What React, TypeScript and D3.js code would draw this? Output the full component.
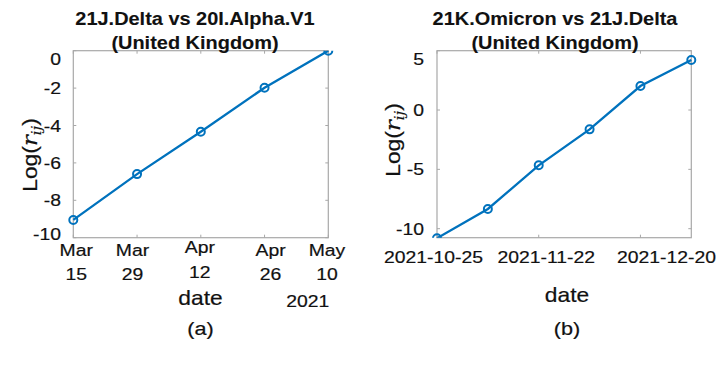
import React from "react";
import * as d3 from "d3";

const leftDates = ["2021-03-15", "2021-03-29", "2021-04-12", "2021-04-26", "2021-05-10"];
const leftValues = [-9.05, -6.6, -4.33, -1.98, 0];
const leftTickDates = ["2021-03-15", "2021-03-29", "2021-04-12", "2021-04-26", "2021-05-10"];
const leftTickLabels = [["Mar", "15"], ["Mar", "29"], ["Apr", "12"], ["Apr", "26"], ["May", "10"]];
const leftYTicks = [0, -2, -4, -6, -8, -10];

const rightDates = ["2021-10-25", "2021-11-08", "2021-11-22", "2021-12-06", "2021-12-20", "2022-01-03"];
const rightValues = [-10.8, -8.34, -4.66, -1.63, 2.02, 4.21];
const rightTickDates = ["2021-10-25", "2021-11-22", "2021-12-20"];
const rightTickLabels = [["2021-10-25"], ["2021-11-22"], ["2021-12-20"]];
const rightYTicks = [5, 0, -5, -10];

// layout nudges of the tick labels (as in the reference image)
const leftLabelDx = [3, -4.5, -1, 6, -1.3];
const leftLabelDy = [0, 0, -2.5, 0, 0];
const rightLabelDx = [-3.5, 7.5, 26];
const rightLabelDy = [0, 0, 0];

const BLUE = "#0072BD";
const AXIS = "#a8a8a8";
const FONT = "'Liberation Sans', Arial, sans-serif";
const SX = 1.14;

function T({ x, y, size, anchor = "middle", bold = false, children, rotate = 0 }: any) {
  return (
    <text
      transform={`translate(${x},${y}) rotate(${rotate}) scale(${SX},1)`}
      fontSize={size}
      fontFamily={FONT}
      fontWeight={bold ? "bold" : "normal"}
      textAnchor={anchor}
      fill="#111"
      stroke="#111"
      strokeWidth={bold ? 0.1 : 0.2}
    >
      {children}
    </text>
  );
}

function Panel(props: any) {
  const {
    id, left, right, top, bottom, dates, values, xDomain, yDomain, tickDates, tickLabels, yTicks,
    title, tickBaseline, dateBaseline, subLabel, subBaseline, yLabelX, yLabelY, yearLabel, yLabelRight,
    labelDx, labelDy, textCx, titleCx,
  } = props;
  const parse = d3.utcParse("%Y-%m-%d");
  const x = d3.scaleUtc().domain(xDomain.map((d: string) => parse(d)!)).range([left, right]);
  const y = d3.scaleLinear().domain(yDomain).range([bottom, top]);
  const pts = dates.map((d: string, i: number) => [x(parse(d)!), y(values[i])] as [number, number]);
  const line = d3.line()(pts) || "";
  return (
    <g>
      <defs>
        <clipPath id={id}>
          <rect x={left - 10} y={top} width={right - left + 20} height={bottom - top} />
        </clipPath>
      </defs>
      <rect x={left} y={top} width={right - left} height={bottom - top} fill="none" stroke={AXIS} strokeWidth={1.2} />
      {yTicks.map((v: number) => (
        <g key={"y" + v}>
          <line x1={left} x2={left + 3} y1={y(v)} y2={y(v)} stroke={AXIS} />
          <line x1={right} x2={right - 3} y1={y(v)} y2={y(v)} stroke={AXIS} />
          <T x={yLabelRight} y={Math.min(Math.max(y(v), top + 8), bottom - 4) + 6} size={17} anchor="end">
            {String(v)}
          </T>
        </g>
      ))}
      {tickDates.map((d: string, i: number) => {
        const xx = x(parse(d)!);
        return (
          <g key={"x" + d}>
            <line x1={xx} x2={xx} y1={bottom} y2={bottom - 3} stroke={AXIS} />
            <line x1={xx} x2={xx} y1={top} y2={top + 3} stroke={AXIS} />
            {tickLabels[i].map((s: string, j: number) => (
              <T key={j} x={xx + labelDx[i]} y={tickBaseline + labelDy[i] + j * 24.5} size={17}>
                {s}
              </T>
            ))}
          </g>
        );
      })}
      <g clipPath={`url(#${id})`}>
        <path d={line} fill="none" stroke={BLUE} strokeWidth={2.3} />
        {pts.map((p: [number, number], i: number) => (
          <circle key={i} cx={p[0]} cy={p[1]} r={4} fill="none" stroke={BLUE} strokeWidth={2} />
        ))}
      </g>
      <T x={titleCx} y={25} size={17.5} bold>{title}</T>
      <T x={titleCx} y={49} size={17.5} bold>(United Kingdom)</T>
      <T x={textCx} y={dateBaseline} size={20}>date</T>
      <T x={textCx} y={subBaseline} size={19}>{subLabel}</T>
      {yearLabel ? <T x={right + 1} y={dateBaseline + 1.5} size={17} anchor="end">{yearLabel}</T> : null}
      <text
        transform={`translate(${yLabelX},${yLabelY}) rotate(-90) scale(${SX},1)`}
        fontSize={20}
        fontFamily={FONT}
        textAnchor="middle"
        fill="#111"
        stroke="#111"
        strokeWidth={0.2}
      >
        Log(
        <tspan fontFamily="'DejaVu Serif', serif" fontStyle="italic">r</tspan>
        <tspan fontFamily="'DejaVu Serif', serif" fontStyle="italic" fontSize={13} dy={4}>ij</tspan>
        <tspan dy={-4}>)</tspan>
      </text>
    </g>
  );
}

export default function App() {
  return (
    <svg
      width={725}
      height={385}
      style={{ position: "absolute", left: 0, top: 0, background: "#fff" }}
    >
      <rect width={725} height={385} fill="#fff" />
      <Panel
        id="clipA"
        left={73.3}
        right={328.3}
        top={50.7}
        bottom={237.7}
        dates={leftDates}
        values={leftValues}
        xDomain={["2021-03-15", "2021-05-10"]}
        yDomain={[-10, 0]}
        tickDates={leftTickDates}
        tickLabels={leftTickLabels}
        labelDx={leftLabelDx}
        labelDy={leftLabelDy}
        yTicks={leftYTicks}
        title="21J.Delta vs 20I.Alpha.V1"
        titleCx={195}
        textCx={200.5}
        tickBaseline={255.5}
        dateBaseline={305}
        subLabel="(a)"
        subBaseline={334.5}
        yLabelX={37}
        yLabelY={155}
        yLabelRight={61}
        yearLabel="2021"
      />
      <Panel
        id="clipB"
        left={437}
        right={691.3}
        top={50.7}
        bottom={237.7}
        dates={rightDates}
        values={rightValues}
        xDomain={["2021-10-25", "2022-01-03"]}
        yDomain={[-10.76, 5]}
        tickDates={rightTickDates}
        tickLabels={rightTickLabels}
        labelDx={rightLabelDx}
        labelDy={rightLabelDy}
        yTicks={rightYTicks}
        title="21K.Omicron vs 21J.Delta"
        titleCx={555}
        textCx={567}
        tickBaseline={263.3}
        dateBaseline={302.3}
        subLabel="(b)"
        subBaseline={334.5}
        yLabelX={400}
        yLabelY={140}
        yLabelRight={424}
        yearLabel={null}
      />
    </svg>
  );
}
